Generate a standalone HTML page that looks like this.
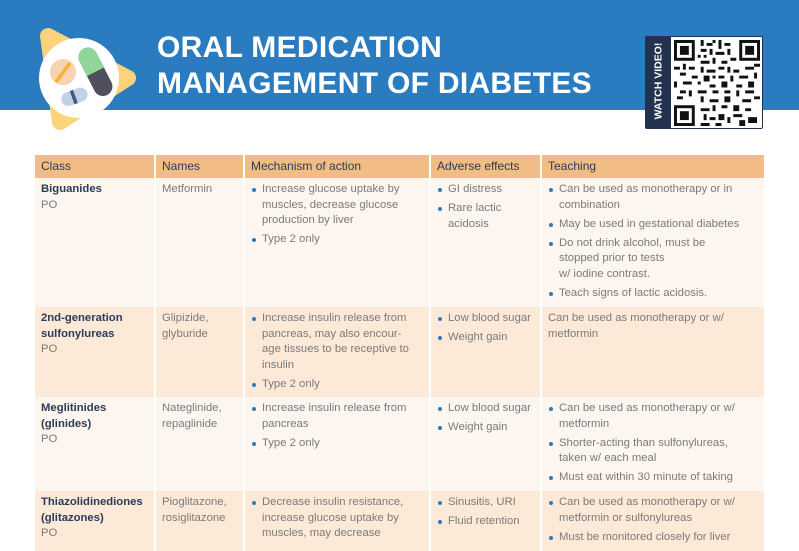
<!DOCTYPE html>
<html><head><meta charset="utf-8"><style>
*{margin:0;padding:0;box-sizing:border-box}
body{width:799px;height:536px;overflow:hidden;background:#fff;font-family:"Liberation Sans",sans-serif;position:relative}
.band{position:absolute;left:0;top:0;width:799px;height:110px;background:#2a7bbf}
h1{position:absolute;left:157px;top:30px;color:#fff;font-size:30px;line-height:36px;font-weight:bold;letter-spacing:0.3px}
.qr{position:absolute;left:645px;top:36px;width:118px;height:93px;background:#fff;border:1px solid #23334f;border-radius:2px}
.qr .s{position:absolute;left:0;top:0;width:25px;height:91px;background:#23334f}
.qr .s span{position:absolute;left:-33px;top:38px;width:91px;transform:rotate(-90deg);color:#fff;font-size:10.5px;font-weight:bold;text-align:center;white-space:nowrap}
table{position:absolute;left:35px;top:155px;width:729px;border-collapse:collapse;table-layout:fixed}
td,th{border-left:2px solid #fff;vertical-align:top;font-size:11.3px;line-height:15.6px;color:#7a7a7a;padding:4px 5px 0 6px;font-weight:normal;text-align:left}
td:first-child,th:first-child{border-left:none}
th{background:#f2bd85;color:#2b3a55;height:23px;padding-top:4px;font-size:12px}
tr.a td{background:#fdf6f0}
tr.b td{background:#fce9d8}
b{color:#2b3a55}
ul{list-style:none}
li{position:relative;padding-left:11px;margin-bottom:3.5px;white-space:nowrap}
li:before{content:"";position:absolute;left:1px;top:6px;width:4px;height:4px;border-radius:50%;background:#2a7bbf}
</style></head><body>
<div class="band"></div>
<svg style="position:absolute;left:0;top:0" width="150" height="140" viewBox="0 0 150 140">
<polygon points="48,36 128,78 60,122" fill="#fdd27a" stroke="#fdd27a" stroke-width="16" stroke-linejoin="round"/>
<circle cx="79" cy="78" r="40" fill="#fff"/>
<circle cx="63" cy="72" r="13" fill="#f6d3b1"/>
<line x1="56" y1="82" x2="70" y2="63" stroke="#fbb034" stroke-width="3.5"/>
<g transform="rotate(-27 95 72)"><rect x="86" y="46" width="19" height="52" rx="9.5" fill="#4f4f5e"/><path d="M86 72 V55.5 A9.5 9.5 0 0 1 105 55.5 V72Z" fill="#90d59a"/></g>
<g transform="rotate(-20 74 97)"><rect x="61" y="90" width="27" height="14" rx="7" fill="#c2d1e6"/><rect x="72" y="90" width="3.5" height="14" fill="#3a5a8a"/></g>
</svg>
<h1>ORAL MEDICATION<br>MANAGEMENT OF DIABETES</h1>
<div class="qr"><div class="s"><span>WATCH VIDEO!</span></div>
<svg style="position:absolute;left:28px;top:3px" width="86" height="86" viewBox="0 0 29 29">
<g fill="#111">
<rect x="0" y="0" width="7" height="7"/><rect x="1" y="1" width="5" height="5" fill="#fff"/><rect x="2" y="2" width="3" height="3"/>
<rect x="22" y="0" width="7" height="7"/><rect x="23" y="1" width="5" height="5" fill="#fff"/><rect x="24" y="2" width="3" height="3"/>
<rect x="0" y="22" width="7" height="7"/><rect x="1" y="23" width="5" height="5" fill="#fff"/><rect x="2" y="24" width="3" height="3"/>
<path d="M9 0h1v2h-1zM11 1h2v1h-2zM13 0h1v1h-1zM15 0h1v3h-1zM17 1h2v1h-2zM9 3h2v1h-2zM12 3h1v2h-1zM14 4h3v1h-3zM18 3h1v2h-1zM8 5h1v1h-1zM10 5h1v1h-1zM9 7h3v1h-3zM13 6h1v2h-1zM16 7h2v1h-2zM19 6h2v1h-2zM0 9h2v1h-2zM3 8h1v2h-1zM5 9h2v1h-2zM9 9h1v2h-1zM11 10h3v1h-3zM15 9h2v1h-2zM18 9h1v2h-1zM20 10h2v1h-2zM24 9h3v1h-3zM27 8h2v1h-2zM2 11h2v1h-2zM6 12h2v1h-2zM10 12h2v2h-2zM13 12h1v1h-1zM15 12h2v1h-2zM19 12h1v2h-1zM22 12h3v1h-3zM27 11h1v2h-1zM0 14h1v2h-1zM3 14h3v1h-3zM8 14h1v1h-1zM12 15h2v1h-2zM16 14h2v2h-2zM21 15h2v1h-2zM25 14h2v2h-2zM2 17h2v1h-2zM5 17h1v2h-1zM8 17h3v1h-3zM13 17h2v1h-2zM17 17h2v1h-2zM21 17h1v2h-1zM24 17h3v1h-3zM1 19h2v1h-2zM9 19h1v2h-1zM12 20h3v1h-3zM17 19h2v2h-2zM23 20h3v1h-3zM27 19h2v1h-2zM9 23h3v1h-3zM13 22h1v2h-1zM16 22h2v1h-2zM20 22h2v2h-2zM24 23h2v1h-2zM10 25h1v2h-1zM12 26h2v1h-2zM15 25h2v2h-2zM18 26h1v2h-1zM20 25h3v1h-3zM25 26h3v2h-3zM9 28h3v1h-3zM14 28h2v1h-2zM22 27h2v2h-2z"/>
</g></svg></div>
<table>
<colgroup><col style="width:120px"><col style="width:89px"><col style="width:186px"><col style="width:111px"><col style="width:223px"></colgroup>
<tr><th>Class</th><th>Names</th><th>Mechanism of action</th><th>Adverse effects</th><th>Teaching</th></tr>
<tr class="a" style="height:129px"><td><b>Biguanides</b><br>PO</td><td>Metformin</td>
<td><ul><li>Increase glucose uptake by<br>muscles, decrease glucose<br>production by liver</li><li>Type 2 only</li></ul></td>
<td><ul><li>GI distress</li><li>Rare lactic<br>acidosis</li></ul></td>
<td><ul><li>Can be used as monotherapy or in<br>combination</li><li>May be used in gestational diabetes</li><li>Do not drink alcohol, must be<br>stopped prior to tests<br>w/ iodine contrast.</li><li>Teach signs of lactic acidosis.</li></ul></td></tr>
<tr class="b" style="height:90px"><td><b>2nd-generation<br>sulfonylureas</b><br>PO</td><td>Glipizide,<br>glyburide</td>
<td><ul><li>Increase insulin release from<br>pancreas, may also encour-<br>age tissues to be receptive to<br>insulin</li><li>Type 2 only</li></ul></td>
<td><ul><li>Low blood sugar</li><li>Weight gain</li></ul></td>
<td>Can be used as monotherapy or w/<br>metformin</td></tr>
<tr class="a" style="height:94px"><td><b>Meglitinides<br>(glinides)</b><br>PO</td><td>Nateglinide,<br>repaglinide</td>
<td><ul><li>Increase insulin release from<br>pancreas</li><li>Type 2 only</li></ul></td>
<td><ul><li>Low blood sugar</li><li>Weight gain</li></ul></td>
<td><ul><li>Can be used as monotherapy or w/<br>metformin</li><li>Shorter-acting than sulfonylureas,<br>taken w/ each meal</li><li>Must eat within 30 minute of taking</li></ul></td></tr>
<tr class="b" style="height:60px"><td><b>Thiazolidinediones<br>(glitazones)</b><br>PO</td><td>Pioglitazone,<br>rosiglitazone</td>
<td><ul><li>Decrease insulin resistance,<br>increase glucose uptake by<br>muscles, may decrease</li></ul></td>
<td><ul><li>Sinusitis, URI</li><li>Fluid retention</li></ul></td>
<td><ul><li>Can be used as monotherapy or w/<br>metformin or sulfonylureas</li><li>Must be monitored closely for liver</li></ul></td></tr>
</table>
</body></html>
